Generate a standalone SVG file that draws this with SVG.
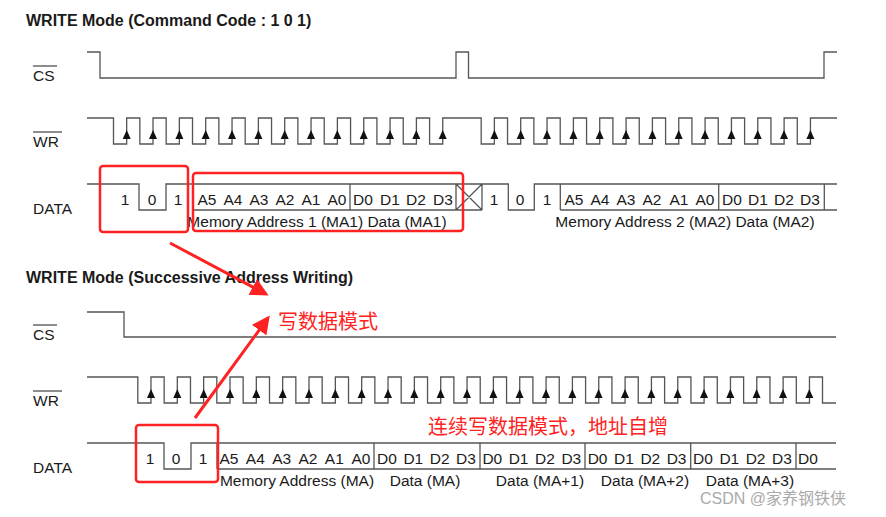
<svg xmlns="http://www.w3.org/2000/svg" xmlns:xlink="http://www.w3.org/1999/xlink" width="886" height="517" viewBox="0 0 886 517">
<style>
.sig{fill:none;stroke:#555;stroke-width:1.3}
.t{font-family:"Liberation Sans",Arial,sans-serif;font-size:15.5px;fill:#1a1a1a;text-anchor:middle}
.lbl{font-family:"Liberation Sans",Arial,sans-serif;font-size:15.5px;fill:#1a1a1a}
.ttl{font-family:"Liberation Sans",Arial,sans-serif;font-size:16px;font-weight:bold;fill:#1a1a1a}
.box{fill:none;stroke:#f22;stroke-width:2.5}
.red{font-family:"Noto Sans CJK SC",sans-serif;font-size:20px;fill:#f22}
.ov{stroke:#1a1a1a;stroke-width:1}
</style>
<defs>
<path id="tri" d="M0,-5 L4,4 L-4,4 Z" fill="#111"/>
<marker id="ah" markerWidth="6" markerHeight="6" refX="5" refY="3" orient="auto" markerUnits="strokeWidth"><path d="M0,0 L6,3 L0,6 Z" fill="#f22"/></marker>
</defs>
<rect width="886" height="517" fill="#fff"/>
<text class="ttl" x="26" y="26">WRITE Mode (Command Code : 1 0 1)</text>
<text class="ttl" x="26" y="283">WRITE Mode (Successive Address Writing)</text>
<g id="labels">
<text class="lbl" x="33" y="81">CS</text><line class="ov" x1="33" y1="66" x2="57" y2="66"/>
<text class="lbl" x="33" y="147">WR</text><line class="ov" x1="33" y1="132" x2="62" y2="132"/>
<text class="lbl" x="33" y="214">DATA</text>
<text class="lbl" x="33" y="340">CS</text><line class="ov" x1="33" y1="325" x2="57" y2="325"/>
<text class="lbl" x="33" y="406">WR</text><line class="ov" x1="33" y1="391" x2="62" y2="391"/>
<text class="lbl" x="33" y="473">DATA</text>
</g>
<g id="connectors">
<path id="cs1" class="sig" d="M87,52 H100 V78 H456 V52 H468.5 V78 H824 V52 H837"/>
<path id="wr1" class="sig" d="M87,118 H113.5 V144
h13.17 v-26 h13.17 v26 h13.17 v-26 h13.17 v26 h13.17 v-26 h13.17 v26
h13.17 v-26 h13.17 v26 h13.17 v-26 h13.17 v26 h13.17 v-26 h13.17 v26
h13.17 v-26 h13.17 v26 h13.17 v-26 h13.17 v26 h13.17 v-26 h13.17 v26
h13.17 v-26 h13.17 v26 h13.17 v-26 h13.17 v26 h13.17 v-26 h13.17 v26
h13.17 v-26 H481.2 V144
h13.17 v-26 h13.17 v26 h13.17 v-26 h13.17 v26 h13.17 v-26 h13.17 v26
h13.17 v-26 h13.17 v26 h13.17 v-26 h13.17 v26 h13.17 v-26 h13.17 v26
h13.17 v-26 h13.17 v26 h13.17 v-26 h13.17 v26 h13.17 v-26 h13.17 v26
h13.17 v-26 h13.17 v26 h13.17 v-26 h13.17 v26 h13.17 v-26 h13.17 v26
h13.17 v-26 H837"/>
<path id="d1" class="sig" d="M87,184 H139 V210 H166 V184 H482 M193,210 H482 M193,184 V210 M350,184 V210 M456,184 V210 M456,184 L482,210 M456,210 L482,184 M482,184 V210 M482,184 H508.3 V210 H534.3 V184 H837 M560.3,210 H837 M560.3,184 V210 M718.7,184 V210 M824.3,184 V210"/>
<path id="cs2" class="sig" d="M87,312 H124 V337 H836"/>
<path id="wr2" class="sig" d="M87,377 H137.8 V403
h13.17 v-26 h13.17 v26 h13.17 v-26 h13.17 v26 h13.17 v-26 h13.17 v26 h13.17 v-26 h13.17 v26 h13.17 v-26 h13.17 v26
h13.17 v-26 h13.17 v26 h13.17 v-26 h13.17 v26 h13.17 v-26 h13.17 v26 h13.17 v-26 h13.17 v26 h13.17 v-26 h13.17 v26
h13.17 v-26 h13.17 v26 h13.17 v-26 h13.17 v26 h13.17 v-26 h13.17 v26 h13.17 v-26 h13.17 v26 h13.17 v-26 h13.17 v26
h13.17 v-26 h13.17 v26 h13.17 v-26 h13.17 v26 h13.17 v-26 h13.17 v26 h13.17 v-26 h13.17 v26 h13.17 v-26 h13.17 v26
h13.17 v-26 h13.17 v26 h13.17 v-26 h13.17 v26 h13.17 v-26 h13.17 v26 h13.17 v-26 h13.17 v26 h13.17 v-26 h13.17 v26
h13.17 v-26 H822.5 V403 H836"/>
<path id="d2" class="sig" d="M87,443 H164 V469 H191 V443 H836 M217,469 H836 M217,443 V469 M374,443 V469 M480,443 V469 M585,443 V469 M690.7,443 V469 M796,443 V469"/>
<g id="edges1">
<use xlink:href="#tri" x="126.7" y="135"/><use xlink:href="#tri" x="153" y="135"/><use xlink:href="#tri" x="179.4" y="135"/><use xlink:href="#tri" x="205.7" y="135"/><use xlink:href="#tri" x="232" y="135"/><use xlink:href="#tri" x="258.4" y="135"/><use xlink:href="#tri" x="284.7" y="135"/><use xlink:href="#tri" x="311" y="135"/><use xlink:href="#tri" x="337.3" y="135"/><use xlink:href="#tri" x="363.7" y="135"/><use xlink:href="#tri" x="390" y="135"/><use xlink:href="#tri" x="416.3" y="135"/><use xlink:href="#tri" x="442.7" y="135"/>
<use xlink:href="#tri" x="494.4" y="135"/><use xlink:href="#tri" x="520.7" y="135"/><use xlink:href="#tri" x="547" y="135"/><use xlink:href="#tri" x="573.4" y="135"/><use xlink:href="#tri" x="599.7" y="135"/><use xlink:href="#tri" x="626" y="135"/><use xlink:href="#tri" x="652.4" y="135"/><use xlink:href="#tri" x="678.7" y="135"/><use xlink:href="#tri" x="705" y="135"/><use xlink:href="#tri" x="731.4" y="135"/><use xlink:href="#tri" x="757.7" y="135"/><use xlink:href="#tri" x="784" y="135"/><use xlink:href="#tri" x="810.4" y="135"/>
</g>
<g id="edges2">
<use xlink:href="#tri" x="151" y="394"/><use xlink:href="#tri" x="177.3" y="394"/><use xlink:href="#tri" x="203.7" y="394"/><use xlink:href="#tri" x="230" y="394"/><use xlink:href="#tri" x="256.3" y="394"/><use xlink:href="#tri" x="282.7" y="394"/><use xlink:href="#tri" x="309" y="394"/><use xlink:href="#tri" x="335.3" y="394"/><use xlink:href="#tri" x="361.6" y="394"/><use xlink:href="#tri" x="388" y="394"/><use xlink:href="#tri" x="414.3" y="394"/><use xlink:href="#tri" x="440.6" y="394"/><use xlink:href="#tri" x="467" y="394"/><use xlink:href="#tri" x="493.3" y="394"/><use xlink:href="#tri" x="519.6" y="394"/><use xlink:href="#tri" x="546" y="394"/><use xlink:href="#tri" x="572.3" y="394"/><use xlink:href="#tri" x="598.6" y="394"/><use xlink:href="#tri" x="625" y="394"/><use xlink:href="#tri" x="651.3" y="394"/><use xlink:href="#tri" x="677.6" y="394"/><use xlink:href="#tri" x="704" y="394"/><use xlink:href="#tri" x="730.3" y="394"/><use xlink:href="#tri" x="756.6" y="394"/><use xlink:href="#tri" x="783" y="394"/><use xlink:href="#tri" x="809.3" y="394"/>
</g>
<line x1="170" y1="243" x2="266" y2="294" stroke="#f22" stroke-width="3" marker-end="url(#ah)"/>
<line x1="195" y1="418" x2="268" y2="318" stroke="#f22" stroke-width="3" marker-end="url(#ah)"/>
</g>
<g id="bits1">
<text class="t" x="125" y="205">1</text><text class="t" x="152" y="205">0</text><text class="t" x="178" y="205">1</text>
<text class="t" x="207" y="205">A5</text><text class="t" x="233" y="205">A4</text><text class="t" x="259" y="205">A3</text><text class="t" x="285" y="205">A2</text><text class="t" x="311" y="205">A1</text><text class="t" x="337" y="205">A0</text>
<text class="t" x="363" y="205">D0</text><text class="t" x="390" y="205">D1</text><text class="t" x="416" y="205">D2</text><text class="t" x="443" y="205">D3</text>
<text class="t" x="317" y="227">Memory Address 1 (MA1) Data (MA1)</text>
<text class="t" x="494" y="205">1</text><text class="t" x="520" y="205">0</text><text class="t" x="547" y="205">1</text>
<text class="t" x="574" y="205">A5</text><text class="t" x="600" y="205">A4</text><text class="t" x="626" y="205">A3</text><text class="t" x="652" y="205">A2</text><text class="t" x="679" y="205">A1</text><text class="t" x="705" y="205">A0</text>
<text class="t" x="732" y="205">D0</text><text class="t" x="758" y="205">D1</text><text class="t" x="784" y="205">D2</text><text class="t" x="810" y="205">D3</text>
<text class="t" x="685" y="227">Memory Address 2 (MA2) Data (MA2)</text>
</g>
<g id="bits2">
<text class="t" x="150" y="464">1</text><text class="t" x="176" y="464">0</text><text class="t" x="203" y="464">1</text>
<text class="t" x="229" y="464">A5</text><text class="t" x="255.3" y="464">A4</text><text class="t" x="281.7" y="464">A3</text><text class="t" x="308" y="464">A2</text><text class="t" x="334.3" y="464">A1</text><text class="t" x="361" y="464">A0</text>
<text class="t" x="387" y="464">D0</text><text class="t" x="413.3" y="464">D1</text><text class="t" x="439.7" y="464">D2</text><text class="t" x="466" y="464">D3</text>
<text class="t" x="492.3" y="464">D0</text><text class="t" x="518.6" y="464">D1</text><text class="t" x="545" y="464">D2</text><text class="t" x="571.3" y="464">D3</text>
<text class="t" x="597.6" y="464">D0</text><text class="t" x="624" y="464">D1</text><text class="t" x="650.3" y="464">D2</text><text class="t" x="676.6" y="464">D3</text>
<text class="t" x="703" y="464">D0</text><text class="t" x="729.3" y="464">D1</text><text class="t" x="755.6" y="464">D2</text><text class="t" x="782" y="464">D3</text>
<text class="t" x="808" y="464">D0</text>
<text class="t" x="297" y="486">Memory Address (MA)</text><text class="t" x="425" y="486">Data (MA)</text><text class="t" x="540" y="486">Data (MA+1)</text><text class="t" x="645" y="486">Data (MA+2)</text><text class="t" x="750" y="486">Data (MA+3)</text>
</g>
<g id="annotations">
<rect class="box" x="100" y="166" width="88" height="66" rx="3"/>
<rect class="box" x="193" y="173" width="270" height="58" rx="3"/>
<rect class="box" x="136" y="425" width="82" height="57" rx="3"/>
<text class="red" x="278" y="329">写数据模式</text>
<text class="red" x="428" y="434">连续写数据模式，地址自增</text>
</g>
<text x="700" y="504" style="font-family:'Liberation Sans','Noto Sans CJK SC',sans-serif;font-size:16px;fill:#aaa">CSDN @家养钢铁侠</text>
</svg>
